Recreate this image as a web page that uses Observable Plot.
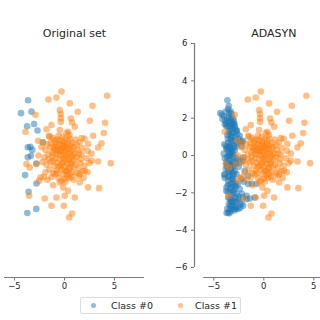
<!DOCTYPE html>
<html>
<head>
<meta charset="utf-8">
<script src="https://cdn.jsdelivr.net/npm/d3@7"></script>
<script src="https://cdn.jsdelivr.net/npm/@observablehq/plot@0.6"></script>
<style>
  html, body { margin: 0; padding: 0; background: #fff; overflow: hidden; }
  #wrap { position: relative; width: 320px; height: 320px; overflow: hidden; font-family: "DejaVu Sans", sans-serif; }
  #left { position: absolute; left: 0; top: 0; width: 160px; height: 295px; }
  #right { position: absolute; left: 160px; top: 0; width: 190px; height: 295px; }
  #left svg, #right svg { max-width: none !important; display: block; }
  #legend { position: absolute; left: 80px; top: 297px; width: 161px; height: 17px; box-sizing: border-box;
            border: 1px solid #dcdcdc; border-radius: 2px; background: #fff; font-size: 9.5px; color: #262626; }
  .item { position: absolute; top: 0; height: 15px; line-height: 15px; white-space: nowrap; }
  .sw { position: absolute; width: 5px; height: 5px; border-radius: 50%; top: 5px; }
</style>
</head>
<body>
<div id="wrap">
  <div id="left"></div>
  <div id="right"></div>
  <div id="legend">
    <div class="sw" style="left: 10px; background: rgba(31,119,180,0.5);"></div>
    <div class="item" style="left: 30px;">Class #0</div>
    <div class="sw" style="left: 97px; background: rgba(255,127,14,0.5);"></div>
    <div class="item" style="left: 114px;">Class #1</div>
  </div>
</div>
<script>
const titles = ["Original set", "ADASYN"];
const classLabels = ["Class #0", "Class #1"];
const xDomain = [-6, 8];
const yDomain = [-6, 6];
const xTicks = [-5, 0, 5];
const yTicks = [-6, -4, -2, 0, 2, 4, 6];

// Original minority class (Class #0)
const class0 = [
  [-3.64, 2.96], [-4.35, 2.27], [-3.30, 2.35], [-3.74, 1.57], [-3.04, 1.69], [-2.70, 1.34],
  [-3.67, 0.44], [-3.42, 0.46], [-3.22, 0.30], [-3.35, -0.02], [-3.67, -0.10], [-2.82, -0.43],
  [-3.94, -1.05], [-2.80, -1.50], [-3.59, -1.94], [-2.82, -2.86], [-3.72, -3.08], [-2.17, 0.71]
];

// Majority class (Class #1)
const class1 = [
  [-0.30, 3.43], [-0.80, 3.11], [-1.60, 3.00], [4.26, 3.20], [0.53, 2.79], [2.80, 2.66],
  [-0.47, 2.43], [1.33, 2.34], [-0.37, 2.22], [-2.90, 2.18], [-0.37, 2.00], [0.63, 1.98],
  [2.53, 1.86], [4.06, 1.75], [0.76, 1.77], [-0.37, 1.80], [1.03, 1.54], [-3.90, 1.27],
  [-1.80, 1.41], [-0.47, 1.36], [0.36, 1.27], [1.70, 0.93], [2.86, 1.06], [3.93, 1.20],
  [-2.64, 0.79], [-1.30, 1.63], [-1.54, 1.06], [3.70, 0.66], [2.36, 0.61], [3.36, 0.43],
  [-2.14, 0.70], [4.63, -0.41], [3.36, -0.32], [2.70, -0.28], [-3.80, -0.46], [-2.80, -0.46],
  [-3.47, -0.64], [-2.40, -1.18], [-2.07, -1.14], [-2.54, -1.36], [-1.14, -0.94], [-0.47, -1.45],
  [-1.14, -1.59], [-0.14, -1.71], [0.36, -1.89], [-3.54, -2.16], [-1.97, -2.30], [-0.80, -2.25],
  [0.03, -2.16], [-0.07, -2.69], [-1.30, -2.69], [0.46, -3.32], [0.76, -3.11], [1.53, -1.45],
  [3.46, -1.75], [1.03, -2.25], [2.36, -1.71], [1.43, -1.09], [2.03, -0.82],
  [-1.2, 0.95], [-0.6, 1.05], [0.1, 0.9], [0.5, 1.1], [1.1, 0.85], [-0.9, 0.7], [-0.2, 0.75],
  [0.8, 0.65], [1.5, 0.7], [-1.7, 0.6], [2.0, 0.9], [0.3, 0.6],
  [-1.4, 0.45], [-0.8, 0.5], [-0.4, 0.4], [0.0, 0.5], [0.45, 0.35], [0.9, 0.45], [1.3, 0.3],
  [1.8, 0.4], [2.3, 0.25], [-1.9, 0.3], [-1.0, 0.25], [-0.1, 0.2], [0.6, 0.15], [-2.3, 0.45], [-0.6, 0.1],
  [-1.6, 0.05], [-1.2, -0.05], [-0.3, 0.0], [0.2, -0.05], [0.8, 0.0], [1.2, -0.1], [1.7, 0.05],
  [2.2, -0.15], [-0.9, -0.15], [0.45, -0.2], [-2.0, -0.1], [1.0, 0.1], [-0.5, -0.2], [2.7, 0.1], [-2.6, 0.0],
  [-1.4, -0.35], [-0.7, -0.4], [-0.1, -0.35], [0.3, -0.45], [0.7, -0.35], [1.1, -0.5], [1.6, -0.4],
  [2.0, -0.55], [-1.0, -0.55], [0.0, -0.6], [-1.8, -0.5], [0.55, -0.65], [1.4, -0.7], [-2.2, -0.35], [2.5, -0.4],
  [-1.5, -0.75], [-0.8, -0.8], [-0.3, -0.75], [0.2, -0.85], [0.8, -0.9], [1.2, -0.95], [1.8, -0.85],
  [-1.9, -0.9], [0.5, -1.0], [-0.1, -1.0], [2.3, -0.9],
  [-1.3, -1.15], [-0.6, -1.2], [0.0, -1.25], [0.4, -1.2], [0.9, -1.3], [-1.7, -1.3], [0.1, -1.4],
  [1.9, -1.2], [-0.3, -1.35],
  [-0.25, 0.55], [0.15, 0.3], [-0.45, 0.8], [0.35, 0.8], [-0.7, 0.3], [0.05, 0.05], [-0.15, -0.15],
  [0.6, 0.55], [-1.1, 0.4], [1.6, -0.2], [0.9, -0.6], [-0.4, -0.55], [0.2, 1.2], [-1.5, 1.0], [0.7, -1.15],
  [-0.85, 0.1], [-0.35, 0.25], [0.35, 0.1], [0.75, 0.3], [-1.25, 0.15], [0.1, -0.25], [-0.6, -0.6],
  [0.4, -0.75], [1.45, 0.1], [-1.05, 0.8], [0.55, 0.9], [-0.2, 1.0], [1.25, 0.55], [-1.6, -0.2],
  [0.95, -0.25], [-0.15, 0.4], [0.25, -1.05], [-0.9, -1.0], [1.5, -1.0], [-0.55, 0.6],
  [-0.75, 0.85], [-0.05, 0.65], [-0.95, 0.45], [0.25, 0.45], [-0.5, 0.25], [-1.35, 0.7], [0.65, -0.1],
  [-0.25, -0.45], [-1.15, -0.3], [0.05, -0.8], [-0.7, -0.95], [0.6, -0.45]
];

// Synthetic minority samples generated by ADASYN
const synthetic0 = [
  [-3.57, 2.49], [-4.13, 1.95], [-3.9, 1.68], [-3.23, 2.22], [-3.0, 1.86], [-3.4, 1.77], [-2.9, 1.59],
  [-3.57, 1.54], [-2.73, 1.32], [-4.0, 2.1], [-3.45, 2.05], [-3.1, 2.0], [-3.6, 1.85], [-3.2, 1.6],
  [-3.75, 1.7], [-2.85, 1.45], [-3.35, 1.4], [-3.0, 1.2], [-3.5, 2.65], [-3.8, 2.35], [-4.2, 2.2], [-3.3, 1.95],
  [-2.4, 1.06], [-2.07, 0.79], [-3.07, 0.79], [-3.4, 0.52], [-3.73, 0.34], [-2.9, 0.25], [-2.73, 0.52],
  [-2.5, 0.9], [-2.9, 1.0], [-3.2, 1.05], [-3.55, 0.7], [-3.6, 0.9], [-3.3, 0.35], [-3.0, 0.55],
  [-2.6, 0.65], [-2.3, 0.75], [-3.8, 0.5], [-3.5, 0.15], [-3.15, 0.2], [-2.8, 0.8], [-3.35, 0.85],
  [-2.2, 0.5], [-3.95, 0.6], [-3.65, 1.1],
  [-3.57, -0.02], [-2.73, -0.11], [-3.23, -0.28], [-3.73, -0.37], [-2.4, -0.37], [-2.07, -0.11],
  [-3.07, -0.64], [-3.57, -0.82], [-3.9, -1.0], [-2.73, -1.0], [-2.9, -0.82], [-3.73, -0.46],
  [-2.07, -0.28], [-3.4, 0.05], [-3.0, -0.1], [-3.9, -0.15], [-2.5, -0.6], [-3.35, -0.5], [-3.8, -0.7],
  [-3.2, -0.9], [-2.6, -0.25], [-4.0, 0.1], [-3.1, 0.05],
  [-3.23, -1.26], [-1.9, -0.82], [-1.57, -1.09], [-2.23, -1.26], [-3.4, -1.53], [-2.9, -1.80],
  [-3.4, -1.98], [-3.57, -1.36], [-3.73, -1.71], [-2.4, -1.8], [-1.57, -1.53], [-0.73, -1.53],
  [-3.9, -1.2], [-3.0, -1.4], [-2.6, -1.55], [-3.55, -1.15], [-3.75, -1.9], [-3.15, -1.7], [-2.0, -1.4],
  [-1.2, -1.5], [-3.05, -1.1],
  [-2.73, -2.07], [-2.07, -2.25], [-3.23, -2.34], [-2.4, -2.52], [-2.9, -2.69], [-3.4, -2.87],
  [-3.57, -3.05], [-2.57, -2.87], [-2.07, -2.69], [-1.73, -2.34], [-2.73, -2.78], [-2.23, -2.6],
  [-1.73, -2.16], [-0.9, -2.25], [-3.0, -2.45], [-3.5, -2.6], [-3.3, -3.0], [-2.6, -2.35],
  [-3.1, -2.85], [-3.45, -3.1], [-2.35, -2.8], [-1.4, -2.3], [-3.2, -2.1], [-2.85, -2.25],
  [-3.45, 2.3], [-3.65, 2.0], [-3.85, 1.85], [-3.15, 1.75], [-2.95, 1.7], [-3.25, 1.25], [-2.65, 1.15],
  [-3.45, 1.15], [-2.95, 0.4], [-3.25, 0.65], [-3.6, 0.35], [-3.45, -0.25], [-3.05, -0.35], [-2.8, -0.45],
  [-3.65, -0.6], [-3.3, -0.75], [-3.0, -0.95], [-3.4, -1.1], [-3.6, -1.6], [-3.2, -1.5], [-2.8, -1.65],
  [-3.0, -2.0], [-3.55, -2.25], [-3.3, -2.5], [-2.75, -2.5], [-3.2, -2.7], [-2.95, -2.95], [-3.65, -2.85],
  [-2.5, -2.2], [-2.2, -2.05],
  [-3.3, 0.15], [-3.5, -0.45], [-3.15, -0.55], [-3.45, -0.9], [-3.1, -1.25], [-3.35, -1.75], [-3.05, -1.85],
  [-3.4, -2.35], [-3.1, -2.5], [-3.35, -2.7], [-3.25, 0.95], [-3.5, 1.3], [-3.1, 1.45], [-3.4, 1.6]
];

const colors = ["#1f77b4", "#ff7f0e"];
const axisColor = "#7a7a7a";
const textColor = "#262626";

function dots(pts, color) {
  return Plot.dot(pts, {x: d => d[0], y: d => d[1], r: 3.3, fill: color, fillOpacity: 0.5, stroke: "none"});
}
function title(t) {
  return Plot.text([t], {x: (xDomain[0] + xDomain[1]) / 2, frameAnchor: "top", dy: -10,
    lineAnchor: "middle", fontSize: 11, fill: textColor});
}
const xAxisMarks = [
  Plot.ruleY([yDomain[0]], {x1: xDomain[0], x2: xDomain[1], dy: 10, stroke: axisColor, strokeWidth: 1.2}),
  Plot.axisX({ticks: xTicks, tickFormat: d3.format("d"), anchor: "bottom", tickSize: 3.5, tickPadding: 2,
    stroke: axisColor, fontSize: 8.5, color: textColor, label: null})
];

const left = Plot.plot({
  width: 160, height: 295,
  marginLeft: 4, marginRight: 16, marginTop: 43, marginBottom: 18,
  style: {fontFamily: "DejaVu Sans", background: "transparent", overflow: "visible", maxWidth: "none"},
  x: {domain: xDomain, range: [4, 144]},
  y: {domain: yDomain, range: [267, 43], axis: null},
  marks: [
    ...xAxisMarks,
    dots(class0, colors[0]),
    dots(class1, colors[1]),
    title(titles[0])
  ]
});
document.getElementById("left").appendChild(left);

const right = Plot.plot({
  width: 190, height: 295,
  marginLeft: 34, marginRight: 6, marginTop: 43, marginBottom: 18,
  style: {fontFamily: "DejaVu Sans", background: "transparent", overflow: "visible", maxWidth: "none"},
  x: {domain: xDomain, range: [43.3, 183.3]},
  y: {domain: yDomain, range: [267, 43]},
  marks: [
    ...xAxisMarks,
    Plot.ruleX([xDomain[0]], {y1: yDomain[0], y2: yDomain[1], dx: -9.3, stroke: axisColor, strokeWidth: 1.2}),
    Plot.axisY({ticks: yTicks, tickFormat: d3.format("d"), anchor: "left", tickSize: 3, tickPadding: 4,
      stroke: axisColor, fontSize: 8.5, color: textColor, label: null}),
    dots(class0.concat(synthetic0), colors[0]),
    dots(class1, colors[1]),
    title(titles[1])
  ]
});
document.getElementById("right").appendChild(right);
</script>
</body>
</html>
